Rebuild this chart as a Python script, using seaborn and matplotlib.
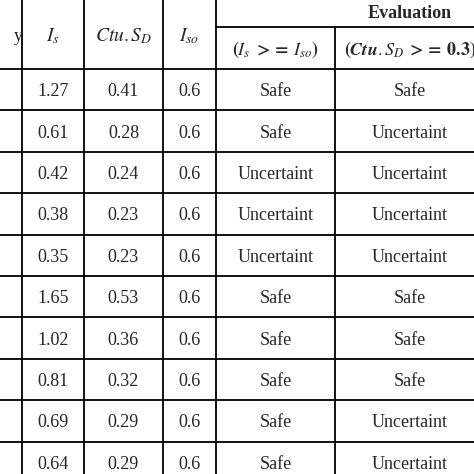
import numpy as np
import seaborn as sns
import matplotlib.pyplot as plt

sns.set_theme(style="white")
plt.rcParams['font.family'] = ['Liberation Serif', 'DejaVu Serif']
plt.rcParams['mathtext.fontset'] = 'stix'

i_s = ["1.27", "0.61", "0.42", "0.38", "0.35", "1.65", "1.02", "0.81", "0.69", "0.64"]
ctu_sd = ["0.41", "0.28", "0.24", "0.23", "0.23", "0.53", "0.36", "0.32", "0.29", "0.29"]
i_so = ["0.6"] * 10
eval_is = ["Safe", "Safe", "Uncertaint", "Uncertaint", "Uncertaint",
           "Safe", "Safe", "Safe", "Safe", "Safe"]
eval_ctu = ["Safe", "Uncertaint", "Uncertaint", "Uncertaint", "Uncertaint",
            "Safe", "Safe", "Safe", "Uncertaint", "Uncertaint"]

fig = plt.figure(figsize=(4.74, 4.74), dpi=100)
ax = fig.add_axes([0, 0, 1, 1])
ax.set_xlim(0, 474)
ax.set_ylim(474, 0)
ax.axis("off")

# grid geometry in pixels
col_x = [22, 84, 163, 216]
col_mid = [53, 123.5, 189.5, 275.5, 410]
row_h = 41.4
header_bottom = 69
row_lines = [header_bottom + k * row_h for k in range(11)]

lw = 1.3
for x in col_x:
    ax.plot([x, x], [0, 474], color="black", lw=lw)
ax.plot([335, 335], [27, 474], color="black", lw=lw)
for y in row_lines:
    ax.plot([0, 474], [y, y], color="black", lw=lw)
ax.plot([216, 474], [27, 27], color="black", lw=lw)

fs = 13
ax.text(14, 36, "y", ha="left", va="center", fontsize=fs)
ax.text(col_mid[0], 36, r"$I_s$", ha="center", va="center", fontsize=fs + 1)
ax.text(col_mid[1], 36, r"$Ctu.S_D$", ha="center", va="center", fontsize=fs + 1)
ax.text(col_mid[2], 36, r"$I_{so}$", ha="center", va="center", fontsize=fs + 1)
ax.text(410, 13, "Evaluation", ha="center", va="center", fontsize=fs, fontweight="bold")
ax.text(col_mid[3], 50, r"$\boldsymbol{(I_s\ >=\ I_{so})}$",
        ha="center", va="center", fontsize=fs)
ax.text(col_mid[4], 50, r"$\boldsymbol{(Ctu.S_D\ >=\ }\mathbf{0.3)}$",
        ha="center", va="center", fontsize=fs)

for k in range(10):
    y = header_bottom + (k + 0.5) * row_h + 2
    for j, vals in enumerate([i_s, ctu_sd, i_so, eval_is, eval_ctu]):
        ax.text(col_mid[j], y, vals[k], ha="center", va="center", fontsize=fs)

fig.savefig("out.png", dpi=100, facecolor="white")
